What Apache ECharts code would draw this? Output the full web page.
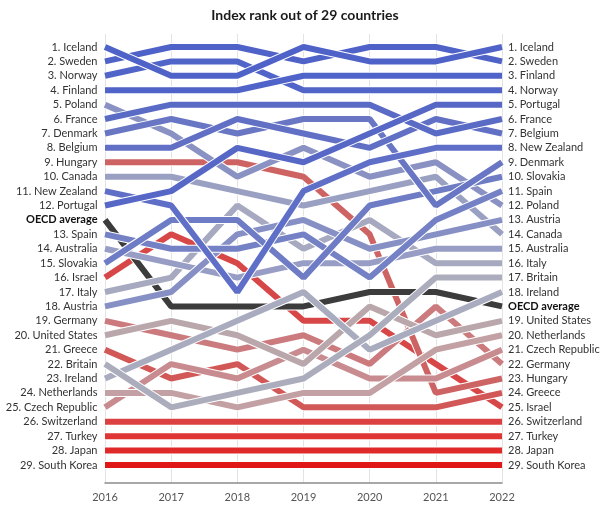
<!DOCTYPE html>
<html>
<head>
<meta charset="utf-8">
<script src="https://cdn.jsdelivr.net/npm/echarts@6/dist/echarts.min.js"></script>
<style>html,body{margin:0;padding:0;background:#fff}#c{width:610px;height:519px}</style>
</head>
<body>
<div id="c"></div>
<script>
// ---- data ----
const years = ['2016', '2017', '2018', '2019', '2020', '2021', '2022'];
const countries = ['Iceland', 'Sweden', 'Norway', 'Finland', 'Poland', 'France', 'Denmark', 'Belgium',
  'Hungary', 'Canada', 'New Zealand', 'Portugal', 'OECD average', 'Spain', 'Australia', 'Slovakia',
  'Israel', 'Italy', 'Austria', 'Germany', 'United States', 'Greece', 'Britain', 'Ireland',
  'Netherlands', 'Czech Republic', 'Switzerland', 'Turkey', 'Japan', 'South Korea'];
// row position per year (OECD average occupies a row), in the order of `countries`
const pos2016 = [1, 2, 3, 4, 5, 6, 7, 8, 9, 10, 11, 12, 13, 14, 15, 16, 17, 18, 19, 20, 21, 22, 23, 24, 25, 26, 27, 28, 29, 30];
const pos2017 = [3, 1, 2, 4, 7, 5, 6, 8, 9, 10, 12, 11, 19, 15, 16, 13, 14, 17, 18, 21, 20, 24, 26, 22, 25, 23, 27, 28, 29, 30];
const pos2018 = [3, 1, 2, 4, 10, 5, 7, 6, 9, 11, 18, 8, 19, 15, 17, 13, 16, 12, 14, 22, 21, 23, 25, 20, 26, 24, 27, 28, 29, 30];
const pos2019 = [1, 2, 4, 3, 8, 5, 6, 7, 10, 12, 11, 9, 19, 14, 16, 17, 20, 15, 13, 21, 23, 26, 24, 18, 25, 22, 27, 28, 29, 30];
const pos2020 = [2, 1, 4, 3, 10, 5, 6, 8, 14, 11, 9, 7, 18, 17, 16, 12, 20, 13, 15, 23, 19, 26, 21, 22, 25, 24, 27, 28, 29, 30];
const pos2021 = [2, 1, 4, 3, 9, 7, 12, 6, 25, 10, 8, 5, 18, 13, 15, 11, 23, 16, 14, 19, 21, 26, 17, 20, 22, 24, 27, 28, 29, 30];
const pos2022 = [1, 2, 4, 3, 12, 6, 9, 7, 24, 14, 8, 5, 19, 11, 15, 10, 26, 16, 13, 23, 20, 25, 17, 18, 21, 22, 27, 28, 29, 30];
const allPos = [pos2016, pos2017, pos2018, pos2019, pos2020, pos2021, pos2022];
const titleText = 'Index rank out of 29 countries';

// ---- style ----
const colorByRow = [
  '#4f62c8', '#4f62c8', '#5063c8', '#5164c8', '#5667c6', '#5a6bc6', '#6170c5', '#5f6fc7',
  '#6876c4', '#6e7bc5', '#7481c5', '#8a92c3', '#8690c5', '#9aa0c2', '#979dc4', '#a6a9bf',
  '#abadbd', '#a9acbf', '#3c3c3c', '#b9a7ac', '#c3a0a4', '#c88b8f', '#cb7b7e', '#cd6363',
  '#d25757', '#d84747', '#dc4141', '#df3535', '#e02a2a', '#e01717'];
const oecdIdx = countries.indexOf('OECD average');
function labelText(i, y) {
  if (i === oecdIdx) return '{b|OECD average}';
  const p = allPos[y][i], o = allPos[y][oecdIdx];
  return (p > o ? p - 1 : p) + '. ' + countries[i];
}
const font = 'Lato';
const labRich = { b: { fontWeight: 'bold', color: '#111', fontFamily: font, fontSize: 11 } };
const order = countries.map((_, i) => i).sort((a, b) => pos2022[b] - pos2022[a]);
const series = [];
order.forEach(i => {
  const data = allPos.map(p => p[i]);
  const col = colorByRow[pos2022[i] - 1];
  series.push({
    type: 'line', data: data, symbol: 'none', silent: true, animation: false, z: 2,
    lineStyle: { color: '#ffffff', width: 8 }
  });
  series.push({
    type: 'line', silent: true, animation: false, z: 2,
    symbol: 'circle', symbolSize: 1, showSymbol: true, showAllSymbol: true,
    itemStyle: { color: 'rgba(0,0,0,0)' },
    lineStyle: { color: col, width: 6 },
    label: { show: false },
    data: data.map((v, k) => k === 0 ? {
      value: v,
      label: { show: true, position: 'left', distance: 7, formatter: labelText(i, 0),
        color: '#333', fontSize: 11, fontFamily: font, rich: labRich }
    } : v),
    endLabel: { show: true, distance: 6, formatter: labelText(i, 6),
      color: '#333', fontSize: 11, fontFamily: font, rich: labRich }
  });
});

const chart = echarts.init(document.getElementById('c'));
chart.setOption({
  animation: false,
  backgroundColor: '#fff',
  title: { text: titleText, left: 'center', top: 3,
    textStyle: { fontFamily: font, fontSize: 14, fontWeight: 'bold', color: '#1a1a1a' } },
  grid: { left: 105, right: 108, top: 34, bottom: 36 },
  xAxis: {
    type: 'category', data: years, boundaryGap: false,
    axisLine: { lineStyle: { color: '#8c8c8c', width: 1.5 } },
    axisTick: { show: false },
    axisLabel: { color: '#555', fontSize: 11, fontFamily: font, margin: 9 },
    splitLine: { show: true, lineStyle: { color: '#e3e3e3', width: 1 } }
  },
  yAxis: { type: 'value', inverse: true, min: 0.1, max: 31.25, show: false },
  series: series
});
</script>
</body>
</html>
